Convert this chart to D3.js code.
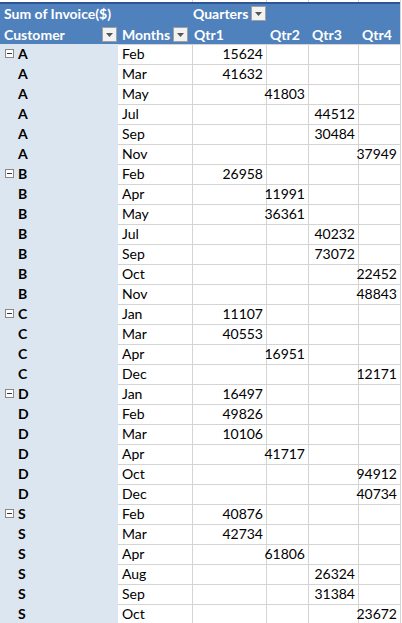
<!DOCTYPE html>
<html><head><meta charset="utf-8">
<script src="https://cdn.jsdelivr.net/npm/d3@7"></script>
<style>body{margin:0;background:#fff}svg{display:block}text{font-family:Lato,"Open Sans",sans-serif;font-size:14px}</style>
</head><body>
<script>
const customers = ["A","A","A","A","A","A","B","B","B","B","B","B","B","C","C","C","C","D","D","D","D","D","D","S","S","S","S","S","S"];
const months = ["Feb","Mar","May","Jul","Sep","Nov","Feb","Apr","May","Jul","Sep","Oct","Nov","Jan","Mar","Apr","Dec","Jan","Feb","Mar","Apr","Oct","Dec","Feb","Mar","Apr","Aug","Sep","Oct"];
const quarterIdx = [1,1,2,3,3,4,1,2,2,3,3,4,4,1,1,2,4,1,1,1,2,4,4,1,1,2,3,3,4];
const invoices = [15624,41632,41803,44512,30484,37949,26958,11991,36361,40232,73072,22452,48843,11107,40553,16951,12171,16497,49826,10106,41717,94912,40734,40876,42734,61806,26324,31384,23672];
const quarters = ["Qtr1","Qtr2","Qtr3","Qtr4"];

const W=402,H=623,top0=44,rh=20;
const svg=d3.select("body").append("svg").attr("width",W).attr("height",H);
const colEdges=[0,118,192,266,308,358,400];
const y=d3.scaleLinear().domain([0,customers.length]).range([top0,top0+rh*customers.length]);
const qx=d3.scaleOrdinal().domain([1,2,3,4]).range([[192,266],[266,308],[308,358],[358,400]]);

// customer background
svg.append("rect").attr("x",0).attr("y",top0).attr("width",118).attr("height",H-top0).attr("fill","#dce6f1");
// grid
const g=svg.append("g").attr("stroke","#d4d4d4").attr("stroke-width",1);
for(let i=0;i<=customers.length;i++){g.append("line").attr("x1",118).attr("x2",401).attr("y1",y(i)+0.5).attr("y2",y(i)+0.5);}
[192,266,308,358,400].forEach(x=>g.append("line").attr("x1",x+0.5).attr("x2",x+0.5).attr("y1",0).attr("y2",H));
// header
svg.append("rect").attr("x",0).attr("y",3).attr("width",400).attr("height",41).attr("fill","#4f81bd");
svg.append("rect").attr("x",0).attr("y",2).attr("width",400).attr("height",2).attr("fill","#2f5597");
const ht=(t,x,yy)=>svg.append("text").attr("x",x).attr("y",yy).attr("fill","#fff").attr("font-weight","bold").text(t);
ht("Sum of Invoice($)",4,19);ht("Quarters",193,19);
ht("Customer",4,40);ht("Months",122,40);
quarters.forEach((q,i)=>ht(q,[194,270,312,362][i],40));
function dd(x,yy){svg.append("rect").attr("x",x+0.5).attr("y",yy+0.5).attr("width",14).attr("height",14).attr("fill","#f2f2f2").attr("stroke","#a0a0a0");
 svg.append("path").attr("d",`M${x+4},${yy+6}h7l-3.5,4z`).attr("fill","#555");}
dd(251,6);dd(102,27);dd(173,27);

// rows
customers.forEach((c,i)=>{
  const yy=y(i)+15;
  const first=i===0||customers[i-1]!==c;
  if(first){svg.append("rect").attr("x",5.5).attr("y",y(i)+5.5).attr("width",8).attr("height",8).attr("fill","#fff").attr("stroke","#888");
    svg.append("line").attr("x1",7).attr("x2",12).attr("y1",y(i)+9.5).attr("y2",y(i)+9.5).attr("stroke","#333");}
  svg.append("text").attr("x",18).attr("y",yy).attr("font-weight","bold").attr("fill","#000").text(c);
  svg.append("text").attr("x",122).attr("y",yy).attr("fill","#000").text(months[i]);
  const r=qx(quarterIdx[i]);
  svg.append("text").attr("x",r[1]-3).attr("y",yy).attr("text-anchor","end").attr("fill","#000").text(invoices[i]);
});
</script>
</body></html>
